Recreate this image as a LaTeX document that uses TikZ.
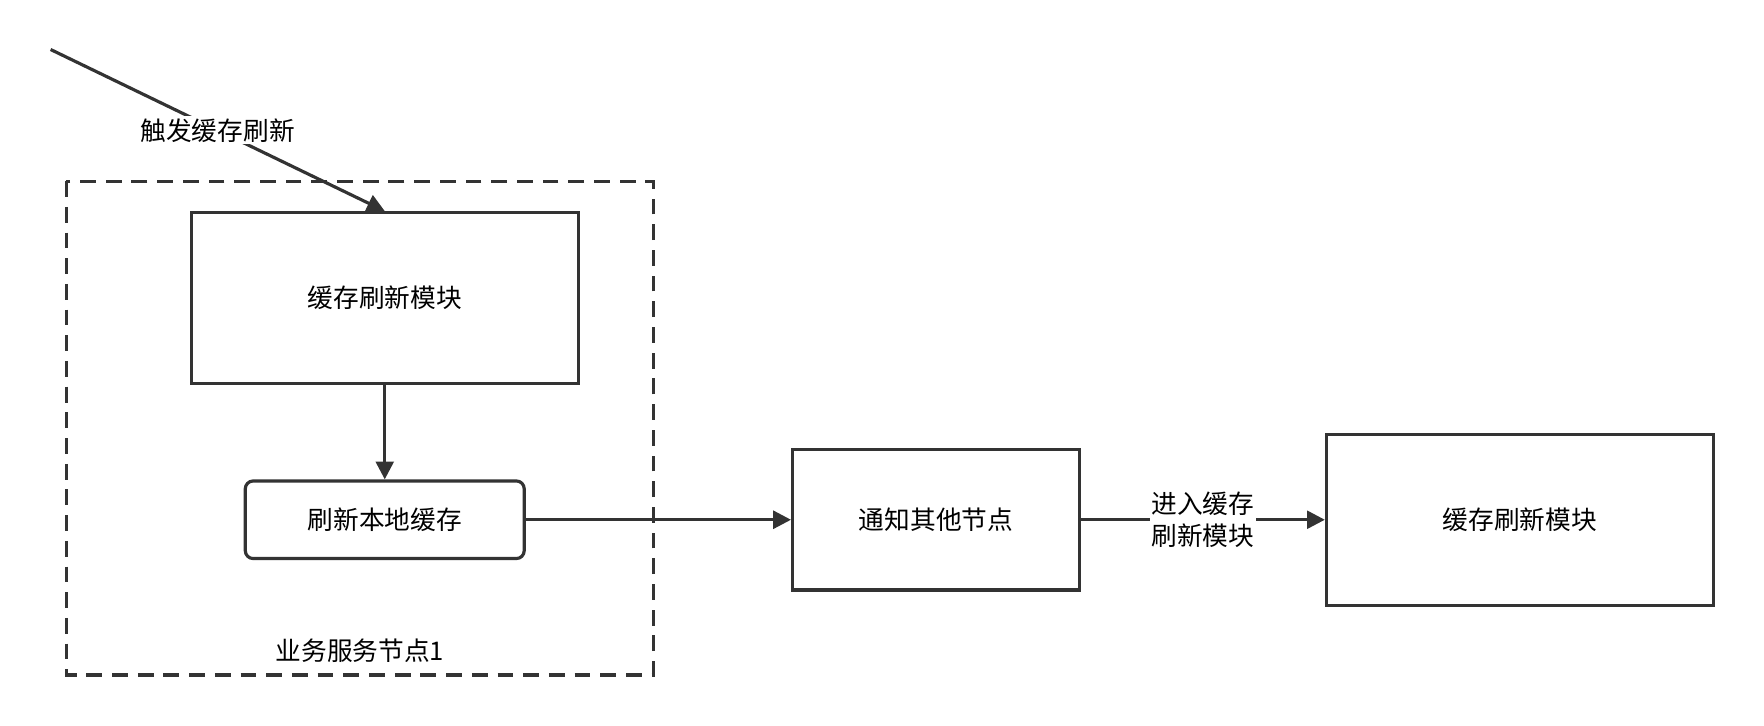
\documentclass[tikz,border=0pt]{standalone}
\usepackage{fontspec}
\setmainfont{Noto Sans CJK SC}
\usetikzlibrary{arrows.meta}
\usetikzlibrary{positioning}
\tikzset{
  box/.style={draw=black!80,line width=1.6pt,minimum width=6.88cm,minimum height=3.04cm,font=\fontsize{13}{16}\selectfont},
  arr/.style={draw=black!80,line width=1.6pt,-{Triangle[length=9pt,width=9pt]}},
  lbl/.style={fill=white,inner sep=1pt,font=\fontsize{13}{16}\selectfont,align=center}
}
\begin{document}
\begin{tikzpicture}[x=0.02cm,y=-0.02cm]
\useasboundingbox (0,0) rectangle (1568,645);
\draw[black!80,line width=1.6pt,dash pattern=on 8pt off 5pt] (59,161) rectangle (581,600);
\node (grp) [font=\fontsize{13}{16}\selectfont] at (320,578) {业务服务节点1};
\node (mod) [box] at (342,265) {缓存刷新模块};
\node (local) [box,rounded corners=4pt,minimum width=4.96cm,minimum height=1.38cm] at (342,462) {刷新本地缓存};
\node (notify) [box,minimum width=5.1cm,minimum height=2.5cm] at (832,462) {通知其他节点};
\node (mod2) [box] at (1351,462) {缓存刷新模块};
\coordinate (start) at (45,44);
\draw[arr] (start) -- node[lbl,pos=0.5] {触发缓存刷新} (mod.north);
\draw[arr] (mod) -- (local);
\draw[arr] (local) -- (notify);
\draw[arr] (notify) -- node[lbl] {进入缓存\\刷新模块} (mod2);
\end{tikzpicture}
\end{document}
